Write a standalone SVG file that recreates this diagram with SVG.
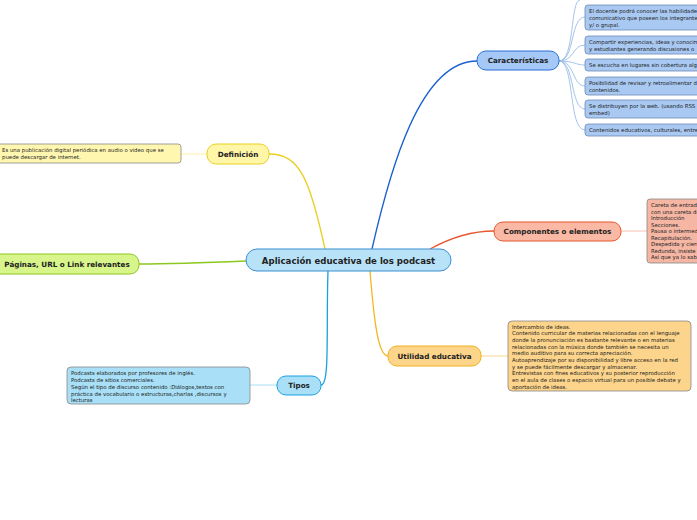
<svg xmlns="http://www.w3.org/2000/svg" width="697" height="520" viewBox="0 0 697 520">
<style>
text{font-family:"DejaVu Sans","Liberation Sans",sans-serif;fill:#222}
.s{font-size:5.4px}
.b{font-size:7.2px;font-weight:bold;text-anchor:middle}
.c{fill:none;stroke-width:1.3}
</style>
<rect width="697" height="520" fill="#fff"/>
<g id="connectors">
<path class="c" d="M372,249 C390,170 420,61 477,61" stroke="#1a5fd0"/>
<path class="c" d="M430,249 C450,238 470,231 494,231" stroke="#e8562d"/>
<path class="c" d="M370,271 C374,320 378,356 388,356" stroke="#f5b520"/>
<path class="c" d="M328,271 C326,330 330,385 321,385" stroke="#1aa0e0"/>
<path class="c" d="M325,249 C310,180 300,154 269,154" stroke="#e8d020"/>
<path class="c" d="M246,261 C200,263 170,264 139,264" stroke="#8cc820"/>
<g fill="none" stroke="#9bbde8" stroke-width="0.9">
<path d="M559,61 C575,61 570,0 580,0"/>
<path d="M559,61 C575,61 570,17 585,17"/>
<path d="M559,61 C575,61 572,45 585,45"/>
<path d="M559,61 C575,61 575,65 585,65"/>
<path d="M559,61 C575,61 572,86 585,86"/>
<path d="M559,61 C575,61 570,109 585,109"/>
<path d="M559,61 C575,61 568,130 585,130"/>
</g>
<path d="M621,231 H647" stroke="#f5c0b0" stroke-width="1"/>
<path d="M481,356 H508" stroke="#fbd890" stroke-width="1"/>
<path d="M250,385 H277" stroke="#a9dcf5" stroke-width="1"/>
<path d="M181,154 H207" stroke="#fff0a0" stroke-width="1"/>
</g>
<g id="center"><rect x="246" y="249" width="205" height="22" rx="11" fill="#b8e2f8" stroke="#3a8fd0"/><text class="b" x="348.5" y="263.5" style="font-size:8.6px">Aplicación educativa de los podcast</text></g>
<g id="caracteristicas"><rect x="477" y="51" width="82" height="19" rx="9" fill="#a5c8f6" stroke="#2a6fd6"/><text class="b" x="518" y="63">Características</text></g>
<g id="car-items" fill="#a9c9f3" stroke="#6a8ab8" stroke-width="0.8">
<rect x="585" y="5" width="120" height="25" rx="3"/>
<rect x="585" y="36" width="120" height="18" rx="3"/>
<rect x="585" y="59" width="120" height="12" rx="3"/>
<rect x="585" y="77" width="120" height="18" rx="3"/>
<rect x="585" y="100" width="120" height="18" rx="3"/>
<rect x="585" y="124" width="120" height="12" rx="3"/>
</g>
<g id="car-text">
<text x="589" y="13" class="s">El docente podrá conocer las habilidades</text>
<text x="589" y="20" class="s">comunicativo que poseen los integrantes</text>
<text x="589" y="27" class="s">y/ o grupal.</text>
<text x="589" y="44" class="s">Compartir experiencias, ideas y conocimientos</text>
<text x="589" y="51" class="s">y estudiantes generando discusiones o</text>
<text x="589" y="67" class="s">Se escucha en lugares sin cobertura alguna</text>
<text x="589" y="85" class="s">Posibilidad de revisar y retroalimentar de</text>
<text x="589" y="92" class="s">contenidos.</text>
<text x="589" y="108" class="s">Se distribuyen por la web. (usando RSS</text>
<text x="589" y="115" class="s">embed)</text>
<text x="589" y="132" class="s">Contenidos educativos, culturales, entre</text>
</g>
<g id="componentes"><rect x="494" y="222" width="127" height="19" rx="9" fill="#f9b9a4" stroke="#e8562d"/><text class="b" x="557.5" y="234">Componentes o elementos</text>
<rect x="647" y="199" width="60" height="64" rx="3" fill="#f5b6a4" stroke="#888" stroke-width="0.8"/>
<text class="s" x="651" y="207">Careta de entrada</text><text class="s" x="651" y="213.5">con una careta de</text><text class="s" x="651" y="220">Introducción</text><text class="s" x="651" y="226.5">Secciones.</text><text class="s" x="651" y="233">Pausa o intermedio</text><text class="s" x="651" y="239.5">Recapitulación.</text><text class="s" x="651" y="246">Despedida y cierre</text><text class="s" x="651" y="252.5">Redunda, insiste</text><text class="s" x="651" y="259">Así que ya lo sabes</text>
</g>
<g id="utilidad"><rect x="388" y="346" width="93" height="20" rx="9" fill="#fdd58a" stroke="#f0b020"/><text class="b" x="434.5" y="358.5">Utilidad educativa</text>
<rect x="508" y="321" width="183" height="70" rx="4" fill="#fcd48b" stroke="#888" stroke-width="0.8"/>
<text class="s" x="512" y="328.5">Intercambio de ideas.</text>
<text class="s" x="512" y="335.2">Contenido curricular de materias relacionadas con el lenguaje</text>
<text class="s" x="512" y="341.9">donde la pronunciación es bastante relevante o en materias</text>
<text class="s" x="512" y="348.6">relacionadas con la música donde también se necesita un</text>
<text class="s" x="512" y="355.3">medio auditivo para su correcta apreciación.</text>
<text class="s" x="512" y="362">Autoaprendizaje por su disponibilidad y libre acceso en la red</text>
<text class="s" x="512" y="368.7">y se puede fácilmente descargar y almacenar.</text>
<text class="s" x="512" y="375.4">Entrevistas con fines educativos y su posterior reproducción</text>
<text class="s" x="512" y="382.1">en el aula de clases o espacio virtual para un posible debate y</text>
<text class="s" x="512" y="388.8">aportación de ideas.</text>
</g>
<g id="tipos"><rect x="277" y="376" width="44" height="19" rx="9" fill="#a9e0f7" stroke="#1aa0e0"/><text class="b" x="299" y="388">Tipos</text>
<rect x="67" y="367" width="183" height="37" rx="4" fill="#a9e0f7" stroke="#888" stroke-width="0.8"/>
<text class="s" x="71" y="375">Podcasts elaborados por profesores de inglés.</text>
<text class="s" x="71" y="382">Podcasts de sitios comerciales.</text>
<text class="s" x="71" y="389">Según el tipo de discurso contenido :Diálogos,textos con</text>
<text class="s" x="71" y="396">práctica de vocabulario o estructuras,charlas ,discursos y</text>
<text class="s" x="71" y="402">lecturas</text>
</g>
<g id="definicion"><rect x="207" y="144" width="62" height="20" rx="9" fill="#fff6a8" stroke="#e8d020"/><text class="b" x="238" y="156.5">Definición</text>
<rect x="-3" y="144" width="184" height="19" rx="3" fill="#fff7b0" stroke="#888" stroke-width="0.8"/>
<text class="s" x="2" y="152">Es una publicación digital periódica en audio o video que se</text>
<text class="s" x="2" y="158.5">puede descargar de internet.</text>
</g>
<g id="paginas"><rect x="-10" y="254" width="149" height="20" rx="9" fill="#d7f58a" stroke="#8cc820"/><text class="b" x="67" y="266.5">Páginas, URL o Link relevantes</text></g>
</svg>
